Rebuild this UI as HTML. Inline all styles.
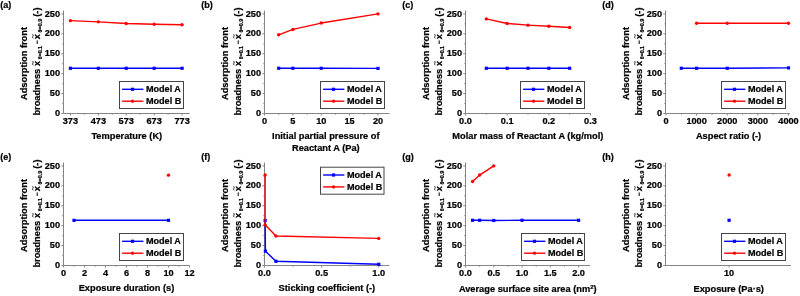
<!DOCTYPE html>
<html><head><meta charset="utf-8"><style>
html,body{margin:0;padding:0;background:#fff;}
svg{display:block;will-change:transform;}
#w{width:800px;height:296px;}
text{font-family:"Liberation Sans",sans-serif;font-weight:bold;fill:#000;stroke:#000;stroke-width:0.22px;}
.tk{font-size:9.2px;}
.tt{font-size:9.25px;}
.lg{font-size:9.1px;}
.lb{font-size:9.0px;}
.sb{font-size:5.2px;}
</style></head><body>
<div id="w"><svg width="800" height="296" viewBox="0 0 800 296">
<rect width="800" height="296" fill="#fff"/>
<path d="M63.50 10.50V113.50H189.50" fill="none" stroke="#858585" stroke-width="1.0"/>
<path d="M61.30 113.50H63.50" stroke="#858585" stroke-width="1.0"/>
<text x="60.10" y="116.10" class="tk" text-anchor="end">0</text>
<path d="M61.30 93.58H63.50" stroke="#858585" stroke-width="1.0"/>
<text x="60.10" y="96.18" class="tk" text-anchor="end">50</text>
<path d="M61.30 73.66H63.50" stroke="#858585" stroke-width="1.0"/>
<text x="60.10" y="76.26" class="tk" text-anchor="end">100</text>
<path d="M61.30 53.74H63.50" stroke="#858585" stroke-width="1.0"/>
<text x="60.10" y="56.34" class="tk" text-anchor="end">150</text>
<path d="M61.30 33.82H63.50" stroke="#858585" stroke-width="1.0"/>
<text x="60.10" y="36.42" class="tk" text-anchor="end">200</text>
<path d="M61.30 13.90H63.50" stroke="#858585" stroke-width="1.0"/>
<text x="60.10" y="16.50" class="tk" text-anchor="end">250</text>
<path d="M62.30 103.54H63.50" stroke="#858585" stroke-width="1.0"/>
<path d="M62.30 83.62H63.50" stroke="#858585" stroke-width="1.0"/>
<path d="M62.30 63.70H63.50" stroke="#858585" stroke-width="1.0"/>
<path d="M62.30 43.78H63.50" stroke="#858585" stroke-width="1.0"/>
<path d="M62.30 23.86H63.50" stroke="#858585" stroke-width="1.0"/>
<path d="M70.40 113.50V115.50" stroke="#858585" stroke-width="1.0"/>
<text x="70.40" y="123.50" class="tk" text-anchor="middle">373</text>
<path d="M98.33 113.50V115.50" stroke="#858585" stroke-width="1.0"/>
<text x="98.33" y="123.50" class="tk" text-anchor="middle">473</text>
<path d="M126.25 113.50V115.50" stroke="#858585" stroke-width="1.0"/>
<text x="126.25" y="123.50" class="tk" text-anchor="middle">573</text>
<path d="M154.18 113.50V115.50" stroke="#858585" stroke-width="1.0"/>
<text x="154.18" y="123.50" class="tk" text-anchor="middle">673</text>
<path d="M182.10 113.50V115.50" stroke="#858585" stroke-width="1.0"/>
<text x="182.10" y="123.50" class="tk" text-anchor="middle">773</text>
<path d="M84.36 113.50V114.70" stroke="#858585" stroke-width="1.0"/>
<path d="M112.29 113.50V114.70" stroke="#858585" stroke-width="1.0"/>
<path d="M140.21 113.50V114.70" stroke="#858585" stroke-width="1.0"/>
<path d="M168.14 113.50V114.70" stroke="#858585" stroke-width="1.0"/>
<text x="126.80" y="139.10" class="tt" text-anchor="middle">Temperature (K)</text>
<text x="0.20" y="7.80" class="lb">(a)</text>
<g transform="translate(27.20 63.50) rotate(-90)">
<text x="0" y="0" class="tt" text-anchor="middle">Adsorption front</text>
</g>
<g transform="translate(40.10 115.60) rotate(-90)">
<text x="0" y="0" class="tt">broadness</text>
<text x="49.60" y="0" class="tt">x</text>
<path d="M50.40 -6.9q1.1 -1.1 2.1 -0.3t2.1 -0.3" fill="none" stroke="#000" stroke-width="0.8"/>
<text x="76.40" y="0" class="tt">x</text>
<path d="M77.20 -6.9q1.1 -1.1 2.1 -0.3t2.1 -0.3" fill="none" stroke="#000" stroke-width="0.8"/>
<text x="56.4" y="1.9" class="sb" textLength="13.2" lengthAdjust="spacingAndGlyphs">θ=0.1</text>
<path d="M71.6 -2.9H75.2" stroke="#000" stroke-width="1.0"/>
<text x="83.0" y="1.9" class="sb" textLength="14.0" lengthAdjust="spacingAndGlyphs">θ=0.9</text>
<text x="98.9" y="0" class="tt">(-)</text>
</g>
<path d="M70.40 68.28 L98.33 68.28 L126.25 68.28 L154.18 68.28 L182.10 68.28" fill="none" stroke="#0000ff" stroke-width="1.4" stroke-linejoin="round"/>
<rect x="68.80" y="66.68" width="3.2" height="3.2" fill="#0000ff"/>
<rect x="96.73" y="66.68" width="3.2" height="3.2" fill="#0000ff"/>
<rect x="124.65" y="66.68" width="3.2" height="3.2" fill="#0000ff"/>
<rect x="152.58" y="66.68" width="3.2" height="3.2" fill="#0000ff"/>
<rect x="180.50" y="66.68" width="3.2" height="3.2" fill="#0000ff"/>
<path d="M70.40 20.67 L98.33 21.87 L126.25 23.46 L154.18 24.26 L182.10 24.78" fill="none" stroke="#ff0000" stroke-width="1.4" stroke-linejoin="round"/>
<circle cx="70.40" cy="20.67" r="1.7" fill="#ff0000"/>
<circle cx="98.33" cy="21.87" r="1.7" fill="#ff0000"/>
<circle cx="126.25" cy="23.46" r="1.7" fill="#ff0000"/>
<circle cx="154.18" cy="24.26" r="1.7" fill="#ff0000"/>
<circle cx="182.10" cy="24.78" r="1.7" fill="#ff0000"/>
<rect x="119.50" y="81.50" width="64.0" height="27.0" fill="#fff" stroke="#454545" stroke-width="1"/>
<path d="M122.10 89.30H143.40" stroke="#0000ff" stroke-width="1.4"/>
<rect x="130.90" y="87.70" width="3.2" height="3.2" fill="#0000ff"/>
<text x="145.90" y="92.30" class="lg">Model A</text>
<path d="M122.10 101.20H143.40" stroke="#ff0000" stroke-width="1.4"/>
<circle cx="132.50" cy="101.20" r="1.6" fill="#ff0000"/>
<text x="145.90" y="104.20" class="lg">Model B</text>
<path d="M264.50 10.50V113.50H389.50" fill="none" stroke="#858585" stroke-width="1.0"/>
<path d="M262.30 113.50H264.50" stroke="#858585" stroke-width="1.0"/>
<text x="261.10" y="116.10" class="tk" text-anchor="end">0</text>
<path d="M262.30 93.58H264.50" stroke="#858585" stroke-width="1.0"/>
<text x="261.10" y="96.18" class="tk" text-anchor="end">50</text>
<path d="M262.30 73.66H264.50" stroke="#858585" stroke-width="1.0"/>
<text x="261.10" y="76.26" class="tk" text-anchor="end">100</text>
<path d="M262.30 53.74H264.50" stroke="#858585" stroke-width="1.0"/>
<text x="261.10" y="56.34" class="tk" text-anchor="end">150</text>
<path d="M262.30 33.82H264.50" stroke="#858585" stroke-width="1.0"/>
<text x="261.10" y="36.42" class="tk" text-anchor="end">200</text>
<path d="M262.30 13.90H264.50" stroke="#858585" stroke-width="1.0"/>
<text x="261.10" y="16.50" class="tk" text-anchor="end">250</text>
<path d="M263.30 103.54H264.50" stroke="#858585" stroke-width="1.0"/>
<path d="M263.30 83.62H264.50" stroke="#858585" stroke-width="1.0"/>
<path d="M263.30 63.70H264.50" stroke="#858585" stroke-width="1.0"/>
<path d="M263.30 43.78H264.50" stroke="#858585" stroke-width="1.0"/>
<path d="M263.30 23.86H264.50" stroke="#858585" stroke-width="1.0"/>
<path d="M264.50 113.50V115.50" stroke="#858585" stroke-width="1.0"/>
<text x="264.50" y="123.50" class="tk" text-anchor="middle">0</text>
<path d="M292.88 113.50V115.50" stroke="#858585" stroke-width="1.0"/>
<text x="292.88" y="123.50" class="tk" text-anchor="middle">5</text>
<path d="M321.25 113.50V115.50" stroke="#858585" stroke-width="1.0"/>
<text x="321.25" y="123.50" class="tk" text-anchor="middle">10</text>
<path d="M349.62 113.50V115.50" stroke="#858585" stroke-width="1.0"/>
<text x="349.62" y="123.50" class="tk" text-anchor="middle">15</text>
<path d="M378.00 113.50V115.50" stroke="#858585" stroke-width="1.0"/>
<text x="378.00" y="123.50" class="tk" text-anchor="middle">20</text>
<path d="M278.69 113.50V114.70" stroke="#858585" stroke-width="1.0"/>
<path d="M307.06 113.50V114.70" stroke="#858585" stroke-width="1.0"/>
<path d="M335.44 113.50V114.70" stroke="#858585" stroke-width="1.0"/>
<path d="M363.81 113.50V114.70" stroke="#858585" stroke-width="1.0"/>
<text x="325.80" y="139.10" class="tt" text-anchor="middle">Initial partial pressure of</text>
<text x="325.80" y="151.10" class="tt" text-anchor="middle">Reactant A (Pa)</text>
<text x="201.20" y="7.80" class="lb">(b)</text>
<g transform="translate(228.20 63.50) rotate(-90)">
<text x="0" y="0" class="tt" text-anchor="middle">Adsorption front</text>
</g>
<g transform="translate(241.10 115.60) rotate(-90)">
<text x="0" y="0" class="tt">broadness</text>
<text x="49.60" y="0" class="tt">x</text>
<path d="M50.40 -6.9q1.1 -1.1 2.1 -0.3t2.1 -0.3" fill="none" stroke="#000" stroke-width="0.8"/>
<text x="76.40" y="0" class="tt">x</text>
<path d="M77.20 -6.9q1.1 -1.1 2.1 -0.3t2.1 -0.3" fill="none" stroke="#000" stroke-width="0.8"/>
<text x="56.4" y="1.9" class="sb" textLength="13.2" lengthAdjust="spacingAndGlyphs">θ=0.1</text>
<path d="M71.6 -2.9H75.2" stroke="#000" stroke-width="1.0"/>
<text x="83.0" y="1.9" class="sb" textLength="14.0" lengthAdjust="spacingAndGlyphs">θ=0.9</text>
<text x="98.9" y="0" class="tt">(-)</text>
</g>
<path d="M278.69 68.28 L292.88 68.28 L321.25 68.28 L378.00 68.40" fill="none" stroke="#0000ff" stroke-width="1.4" stroke-linejoin="round"/>
<rect x="277.09" y="66.68" width="3.2" height="3.2" fill="#0000ff"/>
<rect x="291.27" y="66.68" width="3.2" height="3.2" fill="#0000ff"/>
<rect x="319.65" y="66.68" width="3.2" height="3.2" fill="#0000ff"/>
<rect x="376.40" y="66.80" width="3.2" height="3.2" fill="#0000ff"/>
<path d="M278.69 34.82 L292.88 29.44 L321.25 23.06 L378.00 13.90" fill="none" stroke="#ff0000" stroke-width="1.4" stroke-linejoin="round"/>
<circle cx="278.69" cy="34.82" r="1.7" fill="#ff0000"/>
<circle cx="292.88" cy="29.44" r="1.7" fill="#ff0000"/>
<circle cx="321.25" cy="23.06" r="1.7" fill="#ff0000"/>
<circle cx="378.00" cy="13.90" r="1.7" fill="#ff0000"/>
<rect x="320.50" y="81.50" width="64.0" height="27.0" fill="#fff" stroke="#454545" stroke-width="1"/>
<path d="M323.10 89.30H344.40" stroke="#0000ff" stroke-width="1.4"/>
<rect x="331.90" y="87.70" width="3.2" height="3.2" fill="#0000ff"/>
<text x="346.90" y="92.30" class="lg">Model A</text>
<path d="M323.10 101.20H344.40" stroke="#ff0000" stroke-width="1.4"/>
<circle cx="333.50" cy="101.20" r="1.6" fill="#ff0000"/>
<text x="346.90" y="104.20" class="lg">Model B</text>
<path d="M465.50 10.50V113.50H590.75" fill="none" stroke="#858585" stroke-width="1.0"/>
<path d="M463.30 113.50H465.50" stroke="#858585" stroke-width="1.0"/>
<text x="462.10" y="116.10" class="tk" text-anchor="end">0</text>
<path d="M463.30 93.58H465.50" stroke="#858585" stroke-width="1.0"/>
<text x="462.10" y="96.18" class="tk" text-anchor="end">50</text>
<path d="M463.30 73.66H465.50" stroke="#858585" stroke-width="1.0"/>
<text x="462.10" y="76.26" class="tk" text-anchor="end">100</text>
<path d="M463.30 53.74H465.50" stroke="#858585" stroke-width="1.0"/>
<text x="462.10" y="56.34" class="tk" text-anchor="end">150</text>
<path d="M463.30 33.82H465.50" stroke="#858585" stroke-width="1.0"/>
<text x="462.10" y="36.42" class="tk" text-anchor="end">200</text>
<path d="M463.30 13.90H465.50" stroke="#858585" stroke-width="1.0"/>
<text x="462.10" y="16.50" class="tk" text-anchor="end">250</text>
<path d="M464.30 103.54H465.50" stroke="#858585" stroke-width="1.0"/>
<path d="M464.30 83.62H465.50" stroke="#858585" stroke-width="1.0"/>
<path d="M464.30 63.70H465.50" stroke="#858585" stroke-width="1.0"/>
<path d="M464.30 43.78H465.50" stroke="#858585" stroke-width="1.0"/>
<path d="M464.30 23.86H465.50" stroke="#858585" stroke-width="1.0"/>
<path d="M465.50 113.50V115.50" stroke="#858585" stroke-width="1.0"/>
<text x="465.50" y="123.50" class="tk" text-anchor="middle">0.0</text>
<path d="M507.17 113.50V115.50" stroke="#858585" stroke-width="1.0"/>
<text x="507.17" y="123.50" class="tk" text-anchor="middle">0.1</text>
<path d="M548.83 113.50V115.50" stroke="#858585" stroke-width="1.0"/>
<text x="548.83" y="123.50" class="tk" text-anchor="middle">0.2</text>
<path d="M590.50 113.50V115.50" stroke="#858585" stroke-width="1.0"/>
<text x="590.50" y="123.50" class="tk" text-anchor="middle">0.3</text>
<path d="M486.33 113.50V114.70" stroke="#858585" stroke-width="1.0"/>
<path d="M528.00 113.50V114.70" stroke="#858585" stroke-width="1.0"/>
<path d="M569.67 113.50V114.70" stroke="#858585" stroke-width="1.0"/>
<text x="527.83" y="139.10" class="tt" text-anchor="middle">Molar mass of Reactant A (kg/mol)</text>
<text x="402.20" y="7.80" class="lb">(c)</text>
<g transform="translate(429.20 63.50) rotate(-90)">
<text x="0" y="0" class="tt" text-anchor="middle">Adsorption front</text>
</g>
<g transform="translate(442.10 115.60) rotate(-90)">
<text x="0" y="0" class="tt">broadness</text>
<text x="49.60" y="0" class="tt">x</text>
<path d="M50.40 -6.9q1.1 -1.1 2.1 -0.3t2.1 -0.3" fill="none" stroke="#000" stroke-width="0.8"/>
<text x="76.40" y="0" class="tt">x</text>
<path d="M77.20 -6.9q1.1 -1.1 2.1 -0.3t2.1 -0.3" fill="none" stroke="#000" stroke-width="0.8"/>
<text x="56.4" y="1.9" class="sb" textLength="13.2" lengthAdjust="spacingAndGlyphs">θ=0.1</text>
<path d="M71.6 -2.9H75.2" stroke="#000" stroke-width="1.0"/>
<text x="83.0" y="1.9" class="sb" textLength="14.0" lengthAdjust="spacingAndGlyphs">θ=0.9</text>
<text x="98.9" y="0" class="tt">(-)</text>
</g>
<path d="M486.33 68.28 L507.17 68.28 L528.00 68.28 L548.83 68.28 L569.67 68.28" fill="none" stroke="#0000ff" stroke-width="1.4" stroke-linejoin="round"/>
<rect x="484.73" y="66.68" width="3.2" height="3.2" fill="#0000ff"/>
<rect x="505.57" y="66.68" width="3.2" height="3.2" fill="#0000ff"/>
<rect x="526.40" y="66.68" width="3.2" height="3.2" fill="#0000ff"/>
<rect x="547.23" y="66.68" width="3.2" height="3.2" fill="#0000ff"/>
<rect x="568.07" y="66.68" width="3.2" height="3.2" fill="#0000ff"/>
<path d="M486.33 18.92 L507.17 23.46 L528.00 25.17 L548.83 26.25 L569.67 27.45" fill="none" stroke="#ff0000" stroke-width="1.4" stroke-linejoin="round"/>
<circle cx="486.33" cy="18.92" r="1.7" fill="#ff0000"/>
<circle cx="507.17" cy="23.46" r="1.7" fill="#ff0000"/>
<circle cx="528.00" cy="25.17" r="1.7" fill="#ff0000"/>
<circle cx="548.83" cy="26.25" r="1.7" fill="#ff0000"/>
<circle cx="569.67" cy="27.45" r="1.7" fill="#ff0000"/>
<rect x="520.50" y="81.50" width="64.0" height="27.0" fill="#fff" stroke="#454545" stroke-width="1"/>
<path d="M523.10 89.30H544.40" stroke="#0000ff" stroke-width="1.4"/>
<rect x="531.90" y="87.70" width="3.2" height="3.2" fill="#0000ff"/>
<text x="546.90" y="92.30" class="lg">Model A</text>
<path d="M523.10 101.20H544.40" stroke="#ff0000" stroke-width="1.4"/>
<circle cx="533.50" cy="101.20" r="1.6" fill="#ff0000"/>
<text x="546.90" y="104.20" class="lg">Model B</text>
<path d="M665.50 10.50V113.50H790.00" fill="none" stroke="#858585" stroke-width="1.0"/>
<path d="M663.30 113.50H665.50" stroke="#858585" stroke-width="1.0"/>
<text x="662.10" y="116.10" class="tk" text-anchor="end">0</text>
<path d="M663.30 93.58H665.50" stroke="#858585" stroke-width="1.0"/>
<text x="662.10" y="96.18" class="tk" text-anchor="end">50</text>
<path d="M663.30 73.66H665.50" stroke="#858585" stroke-width="1.0"/>
<text x="662.10" y="76.26" class="tk" text-anchor="end">100</text>
<path d="M663.30 53.74H665.50" stroke="#858585" stroke-width="1.0"/>
<text x="662.10" y="56.34" class="tk" text-anchor="end">150</text>
<path d="M663.30 33.82H665.50" stroke="#858585" stroke-width="1.0"/>
<text x="662.10" y="36.42" class="tk" text-anchor="end">200</text>
<path d="M663.30 13.90H665.50" stroke="#858585" stroke-width="1.0"/>
<text x="662.10" y="16.50" class="tk" text-anchor="end">250</text>
<path d="M664.30 103.54H665.50" stroke="#858585" stroke-width="1.0"/>
<path d="M664.30 83.62H665.50" stroke="#858585" stroke-width="1.0"/>
<path d="M664.30 63.70H665.50" stroke="#858585" stroke-width="1.0"/>
<path d="M664.30 43.78H665.50" stroke="#858585" stroke-width="1.0"/>
<path d="M664.30 23.86H665.50" stroke="#858585" stroke-width="1.0"/>
<path d="M666.00 113.50V115.50" stroke="#858585" stroke-width="1.0"/>
<text x="666.00" y="123.50" class="tk" text-anchor="middle">0</text>
<path d="M696.62 113.50V115.50" stroke="#858585" stroke-width="1.0"/>
<text x="696.62" y="123.50" class="tk" text-anchor="middle">1000</text>
<path d="M727.25 113.50V115.50" stroke="#858585" stroke-width="1.0"/>
<text x="727.25" y="123.50" class="tk" text-anchor="middle">2000</text>
<path d="M757.88 113.50V115.50" stroke="#858585" stroke-width="1.0"/>
<text x="757.88" y="123.50" class="tk" text-anchor="middle">3000</text>
<path d="M788.50 113.50V115.50" stroke="#858585" stroke-width="1.0"/>
<text x="788.50" y="123.50" class="tk" text-anchor="middle">4000</text>
<path d="M681.31 113.50V114.70" stroke="#858585" stroke-width="1.0"/>
<path d="M711.94 113.50V114.70" stroke="#858585" stroke-width="1.0"/>
<path d="M742.56 113.50V114.70" stroke="#858585" stroke-width="1.0"/>
<path d="M773.19 113.50V114.70" stroke="#858585" stroke-width="1.0"/>
<text x="728.55" y="139.10" class="tt" text-anchor="middle">Aspect ratio (-)</text>
<text x="602.20" y="7.80" class="lb">(d)</text>
<g transform="translate(629.20 63.50) rotate(-90)">
<text x="0" y="0" class="tt" text-anchor="middle">Adsorption front</text>
</g>
<g transform="translate(642.10 115.60) rotate(-90)">
<text x="0" y="0" class="tt">broadness</text>
<text x="49.60" y="0" class="tt">x</text>
<path d="M50.40 -6.9q1.1 -1.1 2.1 -0.3t2.1 -0.3" fill="none" stroke="#000" stroke-width="0.8"/>
<text x="76.40" y="0" class="tt">x</text>
<path d="M77.20 -6.9q1.1 -1.1 2.1 -0.3t2.1 -0.3" fill="none" stroke="#000" stroke-width="0.8"/>
<text x="56.4" y="1.9" class="sb" textLength="13.2" lengthAdjust="spacingAndGlyphs">θ=0.1</text>
<path d="M71.6 -2.9H75.2" stroke="#000" stroke-width="1.0"/>
<text x="83.0" y="1.9" class="sb" textLength="14.0" lengthAdjust="spacingAndGlyphs">θ=0.9</text>
<text x="98.9" y="0" class="tt">(-)</text>
</g>
<path d="M681.31 68.28 L696.62 68.28 L727.25 68.28 L788.50 67.88" fill="none" stroke="#0000ff" stroke-width="1.4" stroke-linejoin="round"/>
<rect x="679.71" y="66.68" width="3.2" height="3.2" fill="#0000ff"/>
<rect x="695.02" y="66.68" width="3.2" height="3.2" fill="#0000ff"/>
<rect x="725.65" y="66.68" width="3.2" height="3.2" fill="#0000ff"/>
<rect x="786.90" y="66.28" width="3.2" height="3.2" fill="#0000ff"/>
<path d="M696.62 23.18 L727.25 23.18 L788.50 23.18" fill="none" stroke="#ff0000" stroke-width="1.4" stroke-linejoin="round"/>
<circle cx="696.62" cy="23.18" r="1.7" fill="#ff0000"/>
<circle cx="727.25" cy="23.18" r="1.7" fill="#ff0000"/>
<circle cx="788.50" cy="23.18" r="1.7" fill="#ff0000"/>
<rect x="721.50" y="81.50" width="64.0" height="27.0" fill="#fff" stroke="#454545" stroke-width="1"/>
<path d="M724.10 89.30H745.40" stroke="#0000ff" stroke-width="1.4"/>
<rect x="732.90" y="87.70" width="3.2" height="3.2" fill="#0000ff"/>
<text x="747.90" y="92.30" class="lg">Model A</text>
<path d="M724.10 101.20H745.40" stroke="#ff0000" stroke-width="1.4"/>
<circle cx="734.50" cy="101.20" r="1.6" fill="#ff0000"/>
<text x="747.90" y="104.20" class="lg">Model B</text>
<path d="M63.50 162.50V265.50H189.50" fill="none" stroke="#858585" stroke-width="1.0"/>
<path d="M61.30 265.50H63.50" stroke="#858585" stroke-width="1.0"/>
<text x="60.10" y="268.10" class="tk" text-anchor="end">0</text>
<path d="M61.30 245.58H63.50" stroke="#858585" stroke-width="1.0"/>
<text x="60.10" y="248.18" class="tk" text-anchor="end">50</text>
<path d="M61.30 225.66H63.50" stroke="#858585" stroke-width="1.0"/>
<text x="60.10" y="228.26" class="tk" text-anchor="end">100</text>
<path d="M61.30 205.74H63.50" stroke="#858585" stroke-width="1.0"/>
<text x="60.10" y="208.34" class="tk" text-anchor="end">150</text>
<path d="M61.30 185.82H63.50" stroke="#858585" stroke-width="1.0"/>
<text x="60.10" y="188.42" class="tk" text-anchor="end">200</text>
<path d="M61.30 165.90H63.50" stroke="#858585" stroke-width="1.0"/>
<text x="60.10" y="168.50" class="tk" text-anchor="end">250</text>
<path d="M62.30 255.54H63.50" stroke="#858585" stroke-width="1.0"/>
<path d="M62.30 235.62H63.50" stroke="#858585" stroke-width="1.0"/>
<path d="M62.30 215.70H63.50" stroke="#858585" stroke-width="1.0"/>
<path d="M62.30 195.78H63.50" stroke="#858585" stroke-width="1.0"/>
<path d="M62.30 175.86H63.50" stroke="#858585" stroke-width="1.0"/>
<path d="M63.50 265.50V267.50" stroke="#858585" stroke-width="1.0"/>
<text x="63.50" y="275.50" class="tk" text-anchor="middle">0</text>
<path d="M84.50 265.50V267.50" stroke="#858585" stroke-width="1.0"/>
<text x="84.50" y="275.50" class="tk" text-anchor="middle">2</text>
<path d="M105.50 265.50V267.50" stroke="#858585" stroke-width="1.0"/>
<text x="105.50" y="275.50" class="tk" text-anchor="middle">4</text>
<path d="M126.50 265.50V267.50" stroke="#858585" stroke-width="1.0"/>
<text x="126.50" y="275.50" class="tk" text-anchor="middle">6</text>
<path d="M147.50 265.50V267.50" stroke="#858585" stroke-width="1.0"/>
<text x="147.50" y="275.50" class="tk" text-anchor="middle">8</text>
<path d="M168.50 265.50V267.50" stroke="#858585" stroke-width="1.0"/>
<text x="168.50" y="275.50" class="tk" text-anchor="middle">10</text>
<path d="M189.50 265.50V267.50" stroke="#858585" stroke-width="1.0"/>
<text x="189.50" y="275.50" class="tk" text-anchor="middle">12</text>
<path d="M74.00 265.50V266.70" stroke="#858585" stroke-width="1.0"/>
<path d="M95.00 265.50V266.70" stroke="#858585" stroke-width="1.0"/>
<path d="M116.00 265.50V266.70" stroke="#858585" stroke-width="1.0"/>
<path d="M137.00 265.50V266.70" stroke="#858585" stroke-width="1.0"/>
<path d="M158.00 265.50V266.70" stroke="#858585" stroke-width="1.0"/>
<path d="M179.00 265.50V266.70" stroke="#858585" stroke-width="1.0"/>
<text x="126.50" y="291.10" class="tt" text-anchor="middle">Exposure duration (s)</text>
<text x="0.20" y="159.80" class="lb">(e)</text>
<g transform="translate(27.20 215.50) rotate(-90)">
<text x="0" y="0" class="tt" text-anchor="middle">Adsorption front</text>
</g>
<g transform="translate(40.10 267.60) rotate(-90)">
<text x="0" y="0" class="tt">broadness</text>
<text x="49.60" y="0" class="tt">x</text>
<path d="M50.40 -6.9q1.1 -1.1 2.1 -0.3t2.1 -0.3" fill="none" stroke="#000" stroke-width="0.8"/>
<text x="76.40" y="0" class="tt">x</text>
<path d="M77.20 -6.9q1.1 -1.1 2.1 -0.3t2.1 -0.3" fill="none" stroke="#000" stroke-width="0.8"/>
<text x="56.4" y="1.9" class="sb" textLength="13.2" lengthAdjust="spacingAndGlyphs">θ=0.1</text>
<path d="M71.6 -2.9H75.2" stroke="#000" stroke-width="1.0"/>
<text x="83.0" y="1.9" class="sb" textLength="14.0" lengthAdjust="spacingAndGlyphs">θ=0.9</text>
<text x="98.9" y="0" class="tt">(-)</text>
</g>
<path d="M74.00 220.32 L168.50 220.32" fill="none" stroke="#0000ff" stroke-width="1.4" stroke-linejoin="round"/>
<rect x="72.40" y="218.72" width="3.2" height="3.2" fill="#0000ff"/>
<rect x="166.90" y="218.72" width="3.2" height="3.2" fill="#0000ff"/>
<circle cx="168.50" cy="175.14" r="1.7" fill="#ff0000"/>
<rect x="119.50" y="233.50" width="64.0" height="27.0" fill="#fff" stroke="#454545" stroke-width="1"/>
<path d="M122.10 241.30H143.40" stroke="#0000ff" stroke-width="1.4"/>
<rect x="130.90" y="239.70" width="3.2" height="3.2" fill="#0000ff"/>
<text x="145.90" y="244.30" class="lg">Model A</text>
<path d="M122.10 253.20H143.40" stroke="#ff0000" stroke-width="1.4"/>
<circle cx="132.50" cy="253.20" r="1.6" fill="#ff0000"/>
<text x="145.90" y="256.20" class="lg">Model B</text>
<path d="M264.50 162.50V265.50H389.25" fill="none" stroke="#858585" stroke-width="1.0"/>
<path d="M262.30 265.50H264.50" stroke="#858585" stroke-width="1.0"/>
<text x="261.10" y="268.10" class="tk" text-anchor="end">0</text>
<path d="M262.30 245.58H264.50" stroke="#858585" stroke-width="1.0"/>
<text x="261.10" y="248.18" class="tk" text-anchor="end">50</text>
<path d="M262.30 225.66H264.50" stroke="#858585" stroke-width="1.0"/>
<text x="261.10" y="228.26" class="tk" text-anchor="end">100</text>
<path d="M262.30 205.74H264.50" stroke="#858585" stroke-width="1.0"/>
<text x="261.10" y="208.34" class="tk" text-anchor="end">150</text>
<path d="M262.30 185.82H264.50" stroke="#858585" stroke-width="1.0"/>
<text x="261.10" y="188.42" class="tk" text-anchor="end">200</text>
<path d="M262.30 165.90H264.50" stroke="#858585" stroke-width="1.0"/>
<text x="261.10" y="168.50" class="tk" text-anchor="end">250</text>
<path d="M263.30 255.54H264.50" stroke="#858585" stroke-width="1.0"/>
<path d="M263.30 235.62H264.50" stroke="#858585" stroke-width="1.0"/>
<path d="M263.30 215.70H264.50" stroke="#858585" stroke-width="1.0"/>
<path d="M263.30 195.78H264.50" stroke="#858585" stroke-width="1.0"/>
<path d="M263.30 175.86H264.50" stroke="#858585" stroke-width="1.0"/>
<path d="M264.50 265.50V267.50" stroke="#858585" stroke-width="1.0"/>
<text x="264.50" y="275.50" class="tk" text-anchor="middle">0.0</text>
<path d="M321.62 265.50V267.50" stroke="#858585" stroke-width="1.0"/>
<text x="321.62" y="275.50" class="tk" text-anchor="middle">0.5</text>
<path d="M378.75 265.50V267.50" stroke="#858585" stroke-width="1.0"/>
<text x="378.75" y="275.50" class="tk" text-anchor="middle">1.0</text>
<path d="M293.06 265.50V266.70" stroke="#858585" stroke-width="1.0"/>
<path d="M350.19 265.50V266.70" stroke="#858585" stroke-width="1.0"/>
<text x="326.88" y="291.10" class="tt" text-anchor="middle">Sticking coefficient (-)</text>
<text x="201.20" y="159.80" class="lb">(f)</text>
<g transform="translate(228.20 215.50) rotate(-90)">
<text x="0" y="0" class="tt" text-anchor="middle">Adsorption front</text>
</g>
<g transform="translate(241.10 267.60) rotate(-90)">
<text x="0" y="0" class="tt">broadness</text>
<text x="49.60" y="0" class="tt">x</text>
<path d="M50.40 -6.9q1.1 -1.1 2.1 -0.3t2.1 -0.3" fill="none" stroke="#000" stroke-width="0.8"/>
<text x="76.40" y="0" class="tt">x</text>
<path d="M77.20 -6.9q1.1 -1.1 2.1 -0.3t2.1 -0.3" fill="none" stroke="#000" stroke-width="0.8"/>
<text x="56.4" y="1.9" class="sb" textLength="13.2" lengthAdjust="spacingAndGlyphs">θ=0.1</text>
<path d="M71.6 -2.9H75.2" stroke="#000" stroke-width="1.0"/>
<text x="83.0" y="1.9" class="sb" textLength="14.0" lengthAdjust="spacingAndGlyphs">θ=0.9</text>
<text x="98.9" y="0" class="tt">(-)</text>
</g>
<path d="M265.13 220.48 L265.41 251.16 L275.93 261.28 L378.75 264.30" fill="none" stroke="#0000ff" stroke-width="1.4" stroke-linejoin="round"/>
<rect x="263.53" y="218.88" width="3.2" height="3.2" fill="#0000ff"/>
<rect x="263.81" y="249.56" width="3.2" height="3.2" fill="#0000ff"/>
<rect x="274.32" y="259.68" width="3.2" height="3.2" fill="#0000ff"/>
<rect x="377.15" y="262.70" width="3.2" height="3.2" fill="#0000ff"/>
<path d="M265.13 175.06 L265.13 224.86 L275.93 236.02 L378.75 238.41" fill="none" stroke="#ff0000" stroke-width="1.4" stroke-linejoin="round"/>
<circle cx="265.13" cy="175.06" r="1.7" fill="#ff0000"/>
<circle cx="265.13" cy="224.86" r="1.7" fill="#ff0000"/>
<circle cx="275.93" cy="236.02" r="1.7" fill="#ff0000"/>
<circle cx="378.75" cy="238.41" r="1.7" fill="#ff0000"/>
<rect x="320.50" y="167.20" width="63.5" height="27.0" fill="#fff" stroke="#454545" stroke-width="1"/>
<path d="M323.10 175.00H344.40" stroke="#0000ff" stroke-width="1.4"/>
<rect x="331.90" y="173.40" width="3.2" height="3.2" fill="#0000ff"/>
<text x="346.90" y="178.00" class="lg">Model A</text>
<path d="M323.10 186.90H344.40" stroke="#ff0000" stroke-width="1.4"/>
<circle cx="333.50" cy="186.90" r="1.6" fill="#ff0000"/>
<text x="346.90" y="189.90" class="lg">Model B</text>
<path d="M465.50 162.50V265.50H590.00" fill="none" stroke="#858585" stroke-width="1.0"/>
<path d="M463.30 265.50H465.50" stroke="#858585" stroke-width="1.0"/>
<text x="462.10" y="268.10" class="tk" text-anchor="end">0</text>
<path d="M463.30 245.58H465.50" stroke="#858585" stroke-width="1.0"/>
<text x="462.10" y="248.18" class="tk" text-anchor="end">50</text>
<path d="M463.30 225.66H465.50" stroke="#858585" stroke-width="1.0"/>
<text x="462.10" y="228.26" class="tk" text-anchor="end">100</text>
<path d="M463.30 205.74H465.50" stroke="#858585" stroke-width="1.0"/>
<text x="462.10" y="208.34" class="tk" text-anchor="end">150</text>
<path d="M463.30 185.82H465.50" stroke="#858585" stroke-width="1.0"/>
<text x="462.10" y="188.42" class="tk" text-anchor="end">200</text>
<path d="M463.30 165.90H465.50" stroke="#858585" stroke-width="1.0"/>
<text x="462.10" y="168.50" class="tk" text-anchor="end">250</text>
<path d="M464.30 255.54H465.50" stroke="#858585" stroke-width="1.0"/>
<path d="M464.30 235.62H465.50" stroke="#858585" stroke-width="1.0"/>
<path d="M464.30 215.70H465.50" stroke="#858585" stroke-width="1.0"/>
<path d="M464.30 195.78H465.50" stroke="#858585" stroke-width="1.0"/>
<path d="M464.30 175.86H465.50" stroke="#858585" stroke-width="1.0"/>
<path d="M465.50 265.50V267.50" stroke="#858585" stroke-width="1.0"/>
<text x="465.50" y="275.50" class="tk" text-anchor="middle">0.0</text>
<path d="M493.77 265.50V267.50" stroke="#858585" stroke-width="1.0"/>
<text x="493.77" y="275.50" class="tk" text-anchor="middle">0.5</text>
<path d="M522.05 265.50V267.50" stroke="#858585" stroke-width="1.0"/>
<text x="522.05" y="275.50" class="tk" text-anchor="middle">1.0</text>
<path d="M550.33 265.50V267.50" stroke="#858585" stroke-width="1.0"/>
<text x="550.33" y="275.50" class="tk" text-anchor="middle">1.5</text>
<path d="M578.60 265.50V267.50" stroke="#858585" stroke-width="1.0"/>
<text x="578.60" y="275.50" class="tk" text-anchor="middle">2.0</text>
<path d="M479.64 265.50V266.70" stroke="#858585" stroke-width="1.0"/>
<path d="M507.91 265.50V266.70" stroke="#858585" stroke-width="1.0"/>
<path d="M536.19 265.50V266.70" stroke="#858585" stroke-width="1.0"/>
<path d="M564.46 265.50V266.70" stroke="#858585" stroke-width="1.0"/>
<text x="527.75" y="292.00" class="tt" text-anchor="middle">Average surface site area (nm<tspan dy="-3" style="font-size:6px">2</tspan><tspan dy="3">)</tspan></text>
<text x="402.20" y="159.80" class="lb">(g)</text>
<g transform="translate(429.20 215.50) rotate(-90)">
<text x="0" y="0" class="tt" text-anchor="middle">Adsorption front</text>
</g>
<g transform="translate(442.10 267.60) rotate(-90)">
<text x="0" y="0" class="tt">broadness</text>
<text x="49.60" y="0" class="tt">x</text>
<path d="M50.40 -6.9q1.1 -1.1 2.1 -0.3t2.1 -0.3" fill="none" stroke="#000" stroke-width="0.8"/>
<text x="76.40" y="0" class="tt">x</text>
<path d="M77.20 -6.9q1.1 -1.1 2.1 -0.3t2.1 -0.3" fill="none" stroke="#000" stroke-width="0.8"/>
<text x="56.4" y="1.9" class="sb" textLength="13.2" lengthAdjust="spacingAndGlyphs">θ=0.1</text>
<path d="M71.6 -2.9H75.2" stroke="#000" stroke-width="1.0"/>
<text x="83.0" y="1.9" class="sb" textLength="14.0" lengthAdjust="spacingAndGlyphs">θ=0.9</text>
<text x="98.9" y="0" class="tt">(-)</text>
</g>
<path d="M472.57 220.28 L479.64 220.28 L493.77 220.48 L522.05 220.28 L578.60 220.28" fill="none" stroke="#0000ff" stroke-width="1.4" stroke-linejoin="round"/>
<rect x="470.97" y="218.68" width="3.2" height="3.2" fill="#0000ff"/>
<rect x="478.04" y="218.68" width="3.2" height="3.2" fill="#0000ff"/>
<rect x="492.17" y="218.88" width="3.2" height="3.2" fill="#0000ff"/>
<rect x="520.45" y="218.68" width="3.2" height="3.2" fill="#0000ff"/>
<rect x="577.00" y="218.68" width="3.2" height="3.2" fill="#0000ff"/>
<path d="M472.57 181.44 L479.64 175.06 L493.77 165.90" fill="none" stroke="#ff0000" stroke-width="1.4" stroke-linejoin="round"/>
<circle cx="472.57" cy="181.44" r="1.7" fill="#ff0000"/>
<circle cx="479.64" cy="175.06" r="1.7" fill="#ff0000"/>
<circle cx="493.77" cy="165.90" r="1.7" fill="#ff0000"/>
<rect x="521.50" y="233.50" width="63.0" height="27.0" fill="#fff" stroke="#454545" stroke-width="1"/>
<path d="M524.10 241.30H545.40" stroke="#0000ff" stroke-width="1.4"/>
<rect x="532.90" y="239.70" width="3.2" height="3.2" fill="#0000ff"/>
<text x="547.90" y="244.30" class="lg">Model A</text>
<path d="M524.10 253.20H545.40" stroke="#ff0000" stroke-width="1.4"/>
<circle cx="534.50" cy="253.20" r="1.6" fill="#ff0000"/>
<text x="547.90" y="256.20" class="lg">Model B</text>
<path d="M665.50 162.50V265.50H791.00" fill="none" stroke="#858585" stroke-width="1.0"/>
<path d="M663.30 265.50H665.50" stroke="#858585" stroke-width="1.0"/>
<text x="662.10" y="268.10" class="tk" text-anchor="end">0</text>
<path d="M663.30 245.58H665.50" stroke="#858585" stroke-width="1.0"/>
<text x="662.10" y="248.18" class="tk" text-anchor="end">50</text>
<path d="M663.30 225.66H665.50" stroke="#858585" stroke-width="1.0"/>
<text x="662.10" y="228.26" class="tk" text-anchor="end">100</text>
<path d="M663.30 205.74H665.50" stroke="#858585" stroke-width="1.0"/>
<text x="662.10" y="208.34" class="tk" text-anchor="end">150</text>
<path d="M663.30 185.82H665.50" stroke="#858585" stroke-width="1.0"/>
<text x="662.10" y="188.42" class="tk" text-anchor="end">200</text>
<path d="M663.30 165.90H665.50" stroke="#858585" stroke-width="1.0"/>
<text x="662.10" y="168.50" class="tk" text-anchor="end">250</text>
<path d="M664.30 255.54H665.50" stroke="#858585" stroke-width="1.0"/>
<path d="M664.30 235.62H665.50" stroke="#858585" stroke-width="1.0"/>
<path d="M664.30 215.70H665.50" stroke="#858585" stroke-width="1.0"/>
<path d="M664.30 195.78H665.50" stroke="#858585" stroke-width="1.0"/>
<path d="M664.30 175.86H665.50" stroke="#858585" stroke-width="1.0"/>
<path d="M729.10 265.50V267.50" stroke="#858585" stroke-width="1.0"/>
<text x="729.10" y="275.50" class="tk" text-anchor="middle">10</text>
<text x="728.75" y="292.30" class="tt" text-anchor="middle">Exposure (Pa·s)</text>
<text x="602.20" y="159.80" class="lb">(h)</text>
<g transform="translate(629.20 215.50) rotate(-90)">
<text x="0" y="0" class="tt" text-anchor="middle">Adsorption front</text>
</g>
<g transform="translate(642.10 267.60) rotate(-90)">
<text x="0" y="0" class="tt">broadness</text>
<text x="49.60" y="0" class="tt">x</text>
<path d="M50.40 -6.9q1.1 -1.1 2.1 -0.3t2.1 -0.3" fill="none" stroke="#000" stroke-width="0.8"/>
<text x="76.40" y="0" class="tt">x</text>
<path d="M77.20 -6.9q1.1 -1.1 2.1 -0.3t2.1 -0.3" fill="none" stroke="#000" stroke-width="0.8"/>
<text x="56.4" y="1.9" class="sb" textLength="13.2" lengthAdjust="spacingAndGlyphs">θ=0.1</text>
<path d="M71.6 -2.9H75.2" stroke="#000" stroke-width="1.0"/>
<text x="83.0" y="1.9" class="sb" textLength="14.0" lengthAdjust="spacingAndGlyphs">θ=0.9</text>
<text x="98.9" y="0" class="tt">(-)</text>
</g>
<rect x="727.50" y="218.68" width="3.2" height="3.2" fill="#0000ff"/>
<circle cx="729.10" cy="175.06" r="1.7" fill="#ff0000"/>
<rect x="721.50" y="233.50" width="64.0" height="27.0" fill="#fff" stroke="#454545" stroke-width="1"/>
<path d="M724.10 241.30H745.40" stroke="#0000ff" stroke-width="1.4"/>
<rect x="732.90" y="239.70" width="3.2" height="3.2" fill="#0000ff"/>
<text x="747.90" y="244.30" class="lg">Model A</text>
<path d="M724.10 253.20H745.40" stroke="#ff0000" stroke-width="1.4"/>
<circle cx="734.50" cy="253.20" r="1.6" fill="#ff0000"/>
<text x="747.90" y="256.20" class="lg">Model B</text>
</svg></div>
</body></html>
